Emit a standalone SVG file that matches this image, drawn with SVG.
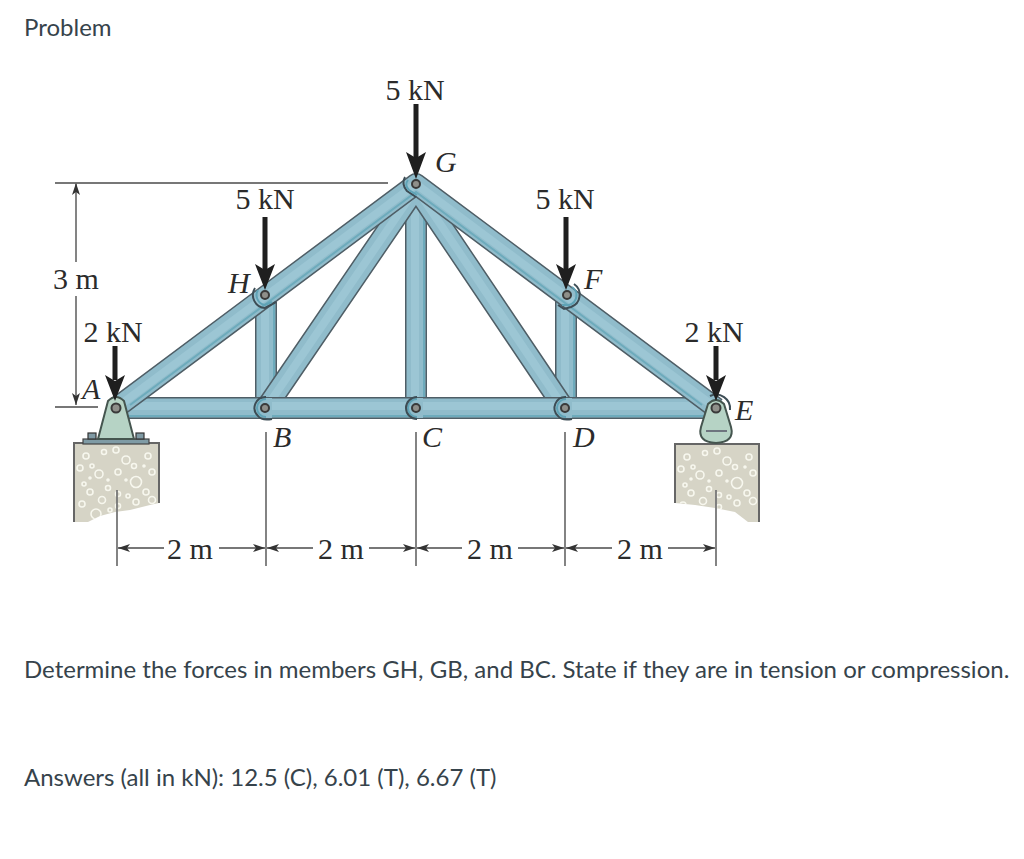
<svg xmlns="http://www.w3.org/2000/svg" width="1024" height="859" viewBox="0 0 1024 859">
<style>
.ui{font-family:Lato,"Liberation Sans",sans-serif;font-size:24px;fill:#36434b}
.lb{font-family:"Liberation Serif",serif;font-size:30px;fill:#2b2b2b}
.it{font-family:"Liberation Serif",serif;font-size:30px;font-style:italic;fill:#2b2b2b}
.mo{stroke:#4f5e66;stroke-width:22;fill:none;stroke-linejoin:round}
.mi{stroke:#90bccb;stroke-width:19;fill:none;stroke-linejoin:round}
.ms{stroke:#9cc6d4;stroke-width:8;fill:none;stroke-linejoin:round}
.sh{stroke:#6dabbc;stroke-width:2;fill:none}
.dim{stroke:#777;stroke-width:1.8;fill:none}
.load{stroke:#1f1f1f;stroke-width:5;fill:none}
.head{fill:#1f1f1f}
.pin{fill:#8f8f8a;stroke:#3a3a3a;stroke-width:2}
.arc{fill:none;stroke:#3d4d55;stroke-width:2}
.arc2{fill:none;stroke:#5fa3b6;stroke-width:2}
.eye{fill:#90bccb}
.con{fill:#d6d4c6}
.ag{fill:none;stroke:#f7f7ee;stroke-width:1.6}
.edge{stroke:#666;stroke-width:2;fill:none}
.plate{fill:#b6d3c5;stroke:#45554f;stroke-width:2}
.bolt{fill:#7f9aa4;stroke:#333;stroke-width:1.2}
</style>
<defs>
<marker id="ah" viewBox="0 0 12 8" refX="12" refY="4" markerWidth="12" markerHeight="8" markerUnits="userSpaceOnUse" orient="auto-start-reverse"><path d="M0 0L12 4L0 8L3 4Z" fill="#333"/></marker>
<clipPath id="ca"><path d="M74 443H159V503L150 505L130 510L115 512L100 516L88 522H74Z"/></clipPath>
<clipPath id="ce"><path d="M675 444H759V522H748L735 512L715 508L695 505L675 503Z"/></clipPath>
<g id="stones">
<circle cx="12" cy="12" r="3"/><circle cx="30" cy="8" r="2.5"/><circle cx="42" cy="6" r="3"/><circle cx="52" cy="16" r="4"/><circle cx="74" cy="12" r="3"/>
<circle cx="6" cy="24" r="3"/><circle cx="18" cy="22" r="2"/><circle cx="25" cy="30" r="4"/><circle cx="44" cy="28" r="3"/><circle cx="60" cy="22" r="2.5"/><circle cx="62" cy="38" r="5.5"/><circle cx="78" cy="28" r="3"/>
<circle cx="10" cy="40" r="2"/><circle cx="16" cy="48" r="3"/><circle cx="34" cy="44" r="2.5"/><circle cx="44" cy="50" r="2.5"/><circle cx="54" cy="52" r="2"/><circle cx="72" cy="48" r="3"/>
<circle cx="8" cy="60" r="3"/><circle cx="28" cy="56" r="3.5"/><circle cx="44" cy="62" r="2.5"/><circle cx="62" cy="58" r="3"/><circle cx="78" cy="56" r="3.5"/><circle cx="22" cy="70" r="5"/><circle cx="36" cy="66" r="2"/>
<circle cx="34" cy="36" r="1"/><circle cx="70" cy="22" r="1"/><circle cx="16" cy="34" r="1"/><circle cx="52" cy="36" r="1"/>
</g>
</defs>
<text class="ui" x="24" y="36">Problem</text>
<g id="members">
<g id="webs">
<path class="mo" d="M266 296V408M416 190V408M566 296V408"/>
<path class="mi" d="M266 296V408M416 190V408M566 296V408"/>
<path class="ms" d="M265 296V408M415 190V408M565 296V408"/>
<path class="sh" d="M274 296V400M424 190V400M574 296V400"/>
<path class="mo" d="M412 194L266 408M420 194L564 408"/>
<path class="mi" d="M412 194L266 408M420 194L564 408"/>
<path class="ms" d="M412 194L266 408M420 194L564 408"/>
</g>
<g id="bottom-chord">
<path class="mo" d="M116 408H716"/><path class="mi" d="M116 408H716"/><path class="ms" d="M116 406H716"/>
<path class="sh" d="M116 416H716"/>
</g>
<g id="top-chord">
<path class="mo" d="M116 408L416 184L716 408"/><path class="mi" d="M116 408L416 184L716 408"/><path class="ms" d="M116 408L416 184L716 408"/>
<path class="sh" d="M130 405L416 192L702 405"/>
</g>
</g>
<g id="support-A">
<path class="con" d="M74 443H159V503L150 505L130 510L115 512L100 516L88 522H74Z"/>
<g clip-path="url(#ca)"><use href="#stones" transform="translate(74,444)" class="ag"/></g>
<path class="edge" d="M74 522V443H159V503"/>
<rect x="83" y="439" width="66" height="5" fill="#7f9ba5" stroke="#444" stroke-width="1.2"/>
<rect class="bolt" x="88" y="433" width="8" height="6"/><rect class="bolt" x="136" y="433" width="8" height="6"/>
<path class="plate" d="M98 439L108 401Q116 393 124 401L134 439Z"/>
</g>
<g id="support-E">
<path class="con" d="M675 444H759V522H748L735 512L715 508L695 505L675 503Z"/>
<g clip-path="url(#ce)"><use href="#stones" transform="translate(675,445)" class="ag"/></g>
<path class="edge" d="M675 503V444H759V522"/>
<path class="arc" d="M710 396A14 14 0 0 1 730 410" stroke-width="2.5"/>
<path class="plate" d="M708 404Q716 396 724 404L731 427Q735 442 716 443Q697 442 701 427Z"/>
<path d="M706 431H727" stroke="#556" stroke-width="1.5"/>
</g>
<g id="node-A"><circle class="pin" cx="116" cy="408" r="4.5"/></g>
<g id="node-B"><path class="eye" d="M266 398A10 10 0 0 0 266 418H272V398Z"/><path class="arc2" d="M266 399A9 9 0 0 0 266 417"/><path class="arc" d="M266 397A11 11 0 0 0 258 416Q262 421 272 419"/><circle class="pin" cx="265" cy="408" r="4"/></g>
<g id="node-C"><path class="eye" d="M417 398A10 10 0 0 0 417 418H423V398Z"/><path class="arc2" d="M417 399A9 9 0 0 0 417 417"/><path class="arc" d="M417 397A11 11 0 0 0 417 419"/><circle class="pin" cx="416" cy="408" r="4"/></g>
<g id="node-D"><path class="eye" d="M566 398A10 10 0 0 0 566 418H572V398Z"/><path class="arc2" d="M566 399A9 9 0 0 0 566 417"/><path class="arc" d="M566 397A11 11 0 0 0 558 416Q562 421 572 419"/><circle class="pin" cx="565" cy="408" r="4"/></g>
<g id="node-E"><circle class="pin" cx="716" cy="408" r="4.5"/></g>
<g id="node-G"><path class="arc" d="M405 177Q401 184 407 191L416 197"/><path class="arc2" d="M408 180Q404 185 409 190L417 195"/><circle class="pin" cx="416" cy="184" r="4"/></g>
<g id="node-H"><path class="arc" d="M255 288A13 13 0 0 0 265 308L276 302"/><path class="arc2" d="M258 290A10 10 0 0 0 265 305L272 302"/><circle class="pin" cx="265" cy="295" r="4"/></g>
<g id="node-F"><path class="arc" d="M574 284A13 13 0 0 1 571 307L564 309L558 305"/><path class="arc2" d="M572 287A10 10 0 0 1 569 305L562 305"/><circle class="pin" cx="567" cy="295" r="4"/></g>
<g id="connectors">
<path class="dim" d="M55 183H388"/>
<path class="dim" d="M76 262V183" marker-end="url(#ah)"/>
<path class="dim" d="M76 296V405" marker-end="url(#ah)"/>
<path class="dim" d="M55 407H98"/>
<path class="dim" d="M117 490V566M266 432V566M416 432V566M565 432V566M716 490V566"/>
<path class="dim" d="M164 548H118" marker-end="url(#ah)"/>
<path class="dim" d="M219 548H265" marker-end="url(#ah)"/>
<path class="dim" d="M313 548H267" marker-end="url(#ah)"/>
<path class="dim" d="M369 548H415" marker-end="url(#ah)"/>
<path class="dim" d="M462 548H417" marker-end="url(#ah)"/>
<path class="dim" d="M518 548H564" marker-end="url(#ah)"/>
<path class="dim" d="M612 548H566" marker-end="url(#ah)"/>
<path class="dim" d="M668 548H715" marker-end="url(#ah)"/>
</g>
<g id="loads">
<path class="load" d="M416 104V158M265 217V270M566 217V270M115 346V380M716 346V380"/>
<path class="head" d="M406 152L416 158L426 152L416 179Z"/>
<path class="head" d="M255 264L265 270L275 264L265 290Z"/>
<path class="head" d="M556 264L566 270L576 264L566 290Z"/>
<path class="head" d="M105 375L115 381L125 375L115 401Z"/>
<path class="head" d="M706 375L716 381L726 375L716 401Z"/>
</g>
<g id="labels">
<text class="lb" x="415" y="100" text-anchor="middle">5 kN</text>
<text class="lb" x="265" y="209" text-anchor="middle">5 kN</text>
<text class="lb" x="565" y="209" text-anchor="middle">5 kN</text>
<text class="lb" x="113" y="342" text-anchor="middle">2 kN</text>
<text class="lb" x="714" y="342" text-anchor="middle">2 kN</text>
<text class="lb" x="76" y="289" text-anchor="middle">3 m</text>
<text class="lb" x="190" y="559" text-anchor="middle">2 m</text>
<text class="lb" x="341" y="559" text-anchor="middle">2 m</text>
<text class="lb" x="490" y="559" text-anchor="middle">2 m</text>
<text class="lb" x="640" y="559" text-anchor="middle">2 m</text>
<text class="it" x="82" y="399">A</text>
<text class="it" x="273" y="447">B</text>
<text class="it" x="422" y="447">C</text>
<text class="it" x="573" y="447">D</text>
<text class="it" x="735" y="420">E</text>
<text class="it" x="584" y="289">F</text>
<text class="it" x="435" y="172">G</text>
<text class="it" x="228" y="293">H</text>
</g>
<text class="ui" x="24" y="678">Determine the forces in members GH, GB, and BC. State if they are in tension or compression.</text>
<text class="ui" x="24" y="786">Answers (all in kN): 12.5 (C), 6.01 (T), 6.67 (T)</text>
</svg>
